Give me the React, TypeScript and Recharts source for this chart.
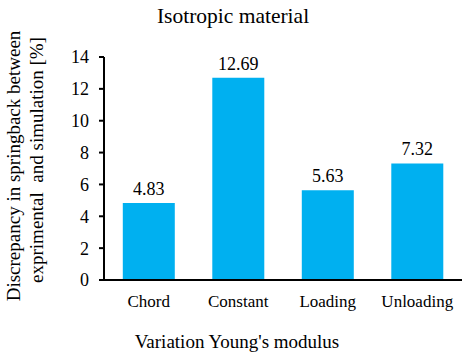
import { BarChart, Bar, XAxis, YAxis, LabelList, Label } from 'recharts';

const categories = ['Chord', 'Constant', 'Loading', 'Unloading'];
const discrepancy = [4.83, 12.69, 5.63, 7.32];
const yTicks = [0, 2, 4, 6, 8, 10, 12, 14];

const data = categories.map((name, i) => ({ name, value: discrepancy[i] }));

const font = '"Liberation Serif", "Times New Roman", serif';

// two-line rotated y title
const YTitle = () => (
  <g fontFamily={font} fontSize={19} fill="#000">
    <text transform="translate(20,166) rotate(-90)" textAnchor="middle" style={{ fontFamily: font }}>
      Discrepancy in springback between
    </text>
    <text
      transform="translate(43,160) rotate(-90)"
      textAnchor="middle"
      style={{ whiteSpace: 'pre', fontFamily: font }}
    >
      {'exprimental  and simulation [%]'}
    </text>
  </g>
);

const App = () => {
  return (
    <div
      style={{
        position: 'absolute',
        left: 0,
        top: 0,
        width: 474,
        height: 353,
        background: '#fff',
        fontFamily: font,
      }}
    >
      <style>{`.recharts-text, .recharts-label { font-family: ${font}; }`}</style>
      <div
        style={{
          position: 'absolute',
          left: 0,
          width: 466,
          top: 4,
          textAlign: 'center',
          fontSize: 21.5,
          color: '#000',
        }}
      >
        Isotropic material
      </div>
      <div
        style={{
          position: 'absolute',
          left: 0,
          width: 474,
          top: 332,
          textAlign: 'center',
          fontSize: 19,
          lineHeight: '20px',
          color: '#000',
        }}
      >
        Variation Young's modulus
      </div>
      <BarChart
        width={474}
        height={353}
        data={data}
        margin={{ top: 57, right: 12, bottom: 0, left: 0 }}
        barCategoryGap="21%"
      >
        <XAxis
          dataKey="name"
          height={73}
          axisLine={{ stroke: '#000', strokeWidth: 2 }}
          tickLine={false}
          tickMargin={9}
          tick={{ fontSize: 17, fill: '#000', style: { fontFamily: font } }}
          interval={0}
        />
        <YAxis
          width={104}
          domain={[0, 14]}
          ticks={yTicks}
          interval={0}
          axisLine={{ stroke: '#000', strokeWidth: 2 }}
          tickLine={{ stroke: '#000', strokeWidth: 2 }}
          tickSize={5}
          tickMargin={10}
          tick={{ fontSize: 18, fill: '#000', style: { fontFamily: font } }}
        >
          <Label content={<YTitle />} />
        </YAxis>
        <Bar dataKey="value" fill="#00B0F0" isAnimationActive={false}>
          <LabelList
            dataKey="value"
            position="top"
            offset={8}
            formatter={(v: number) => v.toFixed(2)}
            style={{ fontFamily: font, fontSize: 18, fill: '#000' }}
          />
        </Bar>
      </BarChart>
    </div>
  );
};

export default App;
